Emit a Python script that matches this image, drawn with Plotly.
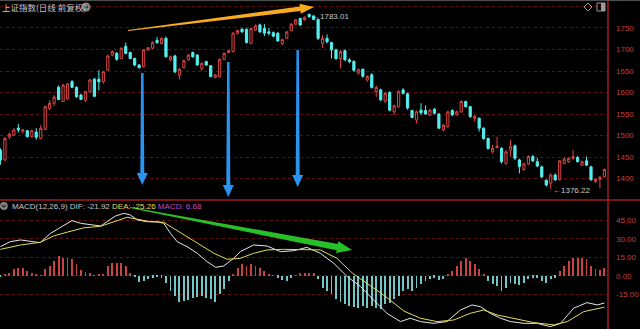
import plotly.graph_objects as go

W, H = 640, 329
PLOT_R = 608          # right edge of plotting area (px)
SPLIT = 200           # boundary between price panel and MACD panel (px)

# ---------------- data ----------------
opens = [1466, 1443, 1496, 1501, 1517, 1510, 1511, 1497, 1508, 1493,
         1514, 1563, 1575, 1612, 1579, 1585, 1625, 1612, 1594, 1582,
         1602, 1631, 1631, 1625, 1652, 1687, 1691, 1679, 1707, 1693,
         1679, 1664, 1660, 1699, 1703, 1721, 1714, 1726, 1676, 1685,
         1640, 1658, 1676, 1693, 1687, 1656, 1672, 1662, 1635, 1637,
         1677, 1693, 1695, 1738, 1747, 1747, 1714, 1745, 1757, 1749,
         1741, 1739, 1738, 1714, 1726, 1744, 1759, 1772, 1769, 1782,
         1778, 1770,
         1714, 1726, 1716, 1699, 1679, 1697, 1676, 1672, 1645, 1654,
         1629, 1641, 1602, 1606, 1580, 1600, 1555, 1567, 1606, 1597,
         1558, 1536, 1559, 1558, 1547, 1561, 1550, 1513, 1521, 1558,
         1548, 1555, 1579, 1567, 1540, 1540, 1517, 1493, 1462, 1472,
         1470, 1435, 1466, 1476, 1443, 1421, 1434, 1451, 1439, 1427,
         1396, 1389, 1408, 1397, 1435, 1439, 1447, 1449, 1431, 1441,
         1427, 1393, 1398, 1404]
highs = [1470, 1497, 1507, 1517, 1527, 1515, 1513, 1514, 1517, 1524,
         1569, 1582, 1594, 1617, 1620, 1622, 1629, 1614, 1597, 1604,
         1631, 1634, 1652, 1650, 1688, 1698, 1694, 1705, 1716, 1695,
         1681, 1666, 1701, 1706, 1719, 1729, 1728, 1730, 1686, 1688,
         1657, 1677, 1690, 1695, 1689, 1670, 1674, 1664, 1643, 1679,
         1693, 1699, 1740, 1746, 1750, 1749, 1751, 1758, 1760, 1759,
         1750, 1742, 1740, 1725, 1743, 1761, 1771, 1774, 1777, 1783.01,
         1780, 1772,
         1734, 1735, 1718, 1702, 1699, 1700, 1680, 1675, 1656, 1656,
         1640, 1645, 1616, 1609, 1601, 1603, 1572, 1605, 1610, 1600,
         1560, 1558, 1575, 1570, 1562, 1564, 1552, 1527, 1558, 1561,
         1558, 1582, 1581, 1569, 1548, 1542, 1519, 1495, 1478, 1497,
         1473, 1466, 1490, 1479, 1446, 1437, 1454, 1455, 1448, 1430,
         1398, 1412, 1412, 1443, 1450, 1450, 1466, 1452, 1442, 1451,
         1430, 1400, 1406, 1423]
lows = [1432, 1441, 1491, 1499, 1507, 1505, 1496, 1495, 1490, 1491,
        1513, 1559, 1569, 1582, 1578, 1583, 1610, 1588, 1582, 1578,
        1600, 1589, 1605, 1620, 1650, 1684, 1674, 1677, 1689, 1677,
        1661, 1655, 1658, 1697, 1701, 1713, 1712, 1681, 1672, 1645,
        1630, 1656, 1674, 1681, 1662, 1650, 1662, 1635, 1633, 1635,
        1675, 1691, 1693, 1735, 1739, 1714, 1712, 1743, 1739, 1731,
        1733, 1728, 1718, 1710, 1724, 1742, 1757, 1755, 1767, 1774,
        1768, 1722,
        1703, 1714, 1679, 1676, 1656, 1673, 1668, 1648, 1642, 1634,
        1625, 1609, 1590, 1580, 1575, 1556, 1548, 1565, 1595, 1560,
        1540, 1528, 1548, 1548, 1545, 1549, 1515, 1509, 1518, 1545,
        1546, 1553, 1565, 1541, 1532, 1509, 1490, 1467, 1458, 1470,
        1435, 1432, 1451, 1443, 1412, 1418, 1431, 1438, 1426, 1401,
        1381, 1376.22, 1394, 1395, 1433, 1436, 1443, 1437, 1429, 1429,
        1395, 1390, 1377, 1402]
closes = [1443, 1493, 1503, 1513, 1513, 1513, 1497, 1511, 1496, 1517,
          1567, 1575, 1589, 1584, 1617, 1620, 1612, 1590, 1584, 1602,
          1629, 1591, 1625, 1648, 1685, 1695, 1677, 1703, 1691, 1679,
          1664, 1658, 1699, 1704, 1716, 1716, 1726, 1683, 1683, 1648,
          1654, 1674, 1687, 1683, 1664, 1668, 1664, 1637, 1641, 1677,
          1691, 1697, 1738, 1744, 1741, 1716, 1749, 1755, 1741, 1738,
          1738, 1731, 1720, 1723, 1741, 1759, 1769, 1757, 1775, 1776,
          1770, 1726,
          1726, 1718, 1699, 1679, 1695, 1676, 1672, 1652, 1653, 1638,
          1637, 1612, 1612, 1583, 1598, 1559, 1569, 1602, 1598, 1564,
          1542, 1555, 1553, 1550, 1559, 1552, 1517, 1524, 1555, 1548,
          1555, 1579, 1567, 1544, 1544, 1517, 1493, 1470, 1470, 1475,
          1439, 1462, 1474, 1447, 1428, 1434, 1451, 1441, 1429, 1404,
          1385, 1408, 1397, 1441, 1445, 1447, 1451, 1439, 1439, 1431,
          1397, 1398, 1403, 1421]

macd_hist = [-1.0, 1.4, 2.7, 5.4, 6.8, 6.8, 4.1, 2.2, 0.8, 0.5,
             5.4, 8.1, 12.2, 16.2, 14.9, 14.9, 13.5, 9.5, 4.9, 3.2,
             2.7, 0.5, 0.8, 1.4, 8.1, 10.3, 10.8, 10.3, 8.1, 2.7,
             -0.8, -4.9, -4.1, -2.7, -1.4, -0.8, -1.4, -5.4, -12.2, -16.2,
             -21.1, -20.3, -19.5, -17.6, -16.8, -16.2, -17.6, -18.9, -21.1, -14.9,
             -10.8, -4.1, 1.4, 6.8, 9.5, 8.1, 9.5, 8.1, 6.8, 4.1,
             1.4, 0.5, -1.4, -3.2, -4.1, -1.4, 0.5, 2.2, 2.2, 2.7,
             2.2, -2.7, -10.0, -12.2, -14.9, -18.9, -21.1, -23.0, -24.3, -24.9,
             -25.7, -24.3, -25.7, -24.3, -25.7, -26.5, -23.0, -21.6, -18.9, -16.2,
             -12.2, -10.8, -12.2, -9.5, -6.8, -4.1, -2.7, -1.4, -3.2, -2.2,
             1.4, 4.1, 8.1, 12.2, 14.9, 12.2, 9.5, 5.4, 0.8, -4.1,
             -6.8, -8.1, -12.2, -9.5, -5.4, -6.8, -7.6, -5.9, -2.7, -1.4,
             -1.4, -4.1, -5.4, -2.7, -1.4, 4.1, 8.1, 12.2, 14.9, 14.9,
             14.9, 13.5, 8.1, 5.4, 4.9, 6.68]

dif_x = [0, 2.2, 4.5, 6.7, 8.9, 11.2, 14.2, 16, 17.9, 20.1, 22.4, 23.8, 25.7,
         27.6, 29, 30.6, 32.8, 35, 36.5, 38, 39.5, 41.7, 44, 46.2, 48.1, 49.9,
         52.1, 53.6, 56.6, 59.6, 62.6, 65.6, 68.5, 71.5, 74.5, 77.5, 80.5,
         83.4, 86.4, 89.4, 91.6, 93.9, 96.8, 99.8, 102.8, 105.4, 107.3, 109.5,
         111.8, 114, 117, 120, 122.9, 125.2, 128.1, 131.1, 133.4, 135]
dif_y = [23.8, 27.8, 29.2, 27.8, 27.0, 34.6, 41.4, 44.9, 42.7, 41.4, 40.5, 44.0, 48.6,
         50.8, 49.5, 45.4, 44.0, 44.0, 42.7, 34.6, 27.8, 23.8, 18.4, 11.6, 7.0, 8.1,
         14.3, 19.7, 25.1, 24.3, 19.7, 20.5, 23.2, 18.4, 10.3, -0.5, -8.6,
         -19.5, -30.3, -37.0, -34.3, -37.0, -38.4, -37.0, -27.6, -23.5, -24.9, -30.3,
         -34.3, -37.0, -38.4, -38.4, -41.1, -38.4, -26.2, -21.6, -23.5, -21.92]
dea_x = [0, 4.5, 8.9, 11.9, 14.9, 18.6, 22.4, 25.3, 28.3, 30.6, 33.5, 36.5, 38.7,
         41.7, 44.7, 47.7, 50.7, 53.6, 56.6, 59.6, 63.3, 67, 71.5, 75.2, 78.7,
         82.7, 86.4, 90.2, 93.9, 97.6, 101.3, 105.0, 108, 111, 114.7, 119.2,
         123.7, 126.7, 130.4, 135]
dea_y = [21.6, 25.1, 27.3, 32.5, 35.5, 39.0, 40.3, 44.0, 47.6, 46.0, 44.0, 43.5, 38.7,
         31.9, 25.1, 18.4, 13.5, 14.3, 18.4, 21.1, 21.6, 21.6, 21.1, 14.3, 2.2,
         -8.0, -17.5, -28.5, -34.3, -37.0, -35.7, -30.3, -27.6, -31.6, -34.3, -37.8,
         -39.7, -37.0, -28.9, -25.26]

price_ticks = [1400, 1450, 1500, 1550, 1600, 1650, 1700, 1750, 1800]
price_labels = ["1400", "1450", "1500", "1550", "1600", "1650", "1700", "1750", ""]
macd_ticks = [-15, 0, 15, 30, 45]

title_text = "上证指数(日线 前复权)"
high_label = 1783.01
low_label = 1376.22

# ---------------- styling ----------------
UP = "#dc4646"
DN = "#55eeee"
HIST_UP = "#c84444"
HIST_DN = "#74c6c6"
GRID = "#5a1212"
SEP = "#a01c1c"
LABEL = "#c93c3c"
TXT = "#c8c8c8"
FONT = "Liberation Sans, Arial, sans-serif"

idx = list(range(len(opens)))
n = len(opens)
xr = [-0.1, n - 0.2]

fig = go.Figure()
fig.add_trace(go.Candlestick(
    x=idx, open=opens, high=highs, low=lows, close=closes,
    increasing=dict(line=dict(color=UP, width=1), fillcolor="#000000"),
    decreasing=dict(line=dict(color=DN, width=1), fillcolor=DN),
    xaxis="x", yaxis="y", hoverinfo="skip", showlegend=False))
fig.add_trace(go.Bar(
    x=idx, y=macd_hist, width=0.2,
    marker=dict(color=[HIST_UP if v >= 0 else HIST_DN for v in macd_hist], line=dict(width=0)),
    xaxis="x2", yaxis="y2", hoverinfo="skip", showlegend=False))
fig.add_trace(go.Scatter(x=dif_x, y=dif_y, mode="lines",
                         line=dict(color="#e6e6e6", width=1),
                         xaxis="x2", yaxis="y2", hoverinfo="skip", showlegend=False))
fig.add_trace(go.Scatter(x=dea_x, y=dea_y, mode="lines",
                         line=dict(color="#e2dc5a", width=1),
                         xaxis="x2", yaxis="y2", hoverinfo="skip", showlegend=False))

ysplit = 1 - SPLIT / H
xdom = [0, PLOT_R / W]

axis_common = dict(side="right", showline=False, zeroline=False, ticks="",
                   showgrid=True, gridcolor=GRID, griddash="dot", gridwidth=1,
                   tickfont=dict(family=FONT, size=8, color=LABEL),
                   ticklabelstandoff=7, fixedrange=True)

fig.update_layout(
    width=W, height=H,
    margin=dict(l=0, r=0, t=0, b=0),
    paper_bgcolor="#000000", plot_bgcolor="#000000",
    showlegend=False, bargap=0,
    xaxis=dict(domain=xdom, range=xr, visible=False, anchor="y",
               rangeslider=dict(visible=False), fixedrange=True),
    xaxis2=dict(domain=xdom, range=xr, visible=False, anchor="y2", fixedrange=True),
    yaxis=dict(domain=[ysplit, 1], range=[1350, 1815.1], anchor="x",
               tickvals=price_ticks, ticktext=price_labels, **axis_common),
    yaxis2=dict(domain=[0, ysplit], range=[-43.0, 61.6], anchor="x2",
                tickvals=macd_ticks, ticktext=[f"{v:.2f}" for v in macd_ticks],
                **axis_common),
)


def P(px, py):
    return px / W, 1 - py / H


def arrow_path(x0, y0, x1, y1, w0, w1, hl, hw):
    dx, dy = x1 - x0, y1 - y0
    L = (dx * dx + dy * dy) ** 0.5
    ux, uy = dx / L, dy / L
    nx, ny = -uy, ux
    bx, by = x1 - ux * hl, y1 - uy * hl
    pts = [(x0 + nx * w0 / 2, y0 + ny * w0 / 2),
           (bx + nx * w1 / 2, by + ny * w1 / 2),
           (bx + nx * hw / 2, by + ny * hw / 2),
           (x1, y1),
           (bx - nx * hw / 2, by - ny * hw / 2),
           (bx - nx * w1 / 2, by - ny * w1 / 2),
           (x0 - nx * w0 / 2, y0 - ny * w0 / 2)]
    s = ""
    for i, (px, py) in enumerate(pts):
        X, Y = P(px, py)
        s += ("M" if i == 0 else "L") + f"{X:.5f},{Y:.5f} "
    return s + "Z"


shapes = []
# separators
shapes.append(dict(type="line", xref="paper", yref="paper",
                   x0=0, x1=1, y0=1 - SPLIT / H, y1=1 - SPLIT / H,
                   line=dict(color=SEP, width=1.5)))
shapes.append(dict(type="line", xref="paper", yref="paper",
                   x0=PLOT_R / W, x1=PLOT_R / W, y0=0, y1=1,
                   line=dict(color=SEP, width=1.5)))
shapes.append(dict(type="line", xref="paper", yref="paper",
                   x0=0, x1=1, y0=1 - 0.6 / H, y1=1 - 0.6 / H,
                   line=dict(color="#555555", width=1)))

# annotation arrows
for (x0, y0, x1, y1, w0, w1, hl, hw, col) in [
    (142.3, 73, 142.3, 185, 2.5, 4, 12, 11, "#2a93f0"),
    (228.3, 62, 228.3, 197, 2.5, 4, 12, 11, "#2a93f0"),
    (297.7, 50, 297.7, 187, 2.5, 4, 12, 11, "#2a93f0"),
    (128, 30.5, 314, 7, 1.2, 4.5, 14, 10, "#f6ac1e"),
    (130, 207.5, 352, 250, 1, 6.5, 15, 12, "#28c028"),
]:
    shapes.append(dict(type="path", xref="paper", yref="paper",
                       path=arrow_path(x0, y0, x1, y1, w0, w1, hl, hw),
                       fillcolor=col, line=dict(width=0)))

# small icons
def circ(cx, cy, r, col):
    X0, Y0 = P(cx - r, cy + r)
    X1, Y1 = P(cx + r, cy - r)
    return dict(type="circle", xref="paper", yref="paper", x0=X0, y0=Y0, x1=X1, y1=Y1,
                fillcolor=col, line=dict(width=0))

shapes.append(circ(86, 7, 4.5, "#858585"))
shapes.append(circ(3.8, 206, 4, "#858585"))
for cx, cy in [(86, 7), (3.8, 206)]:
    a = P(cx - 2, cy - 1)
    b = P(cx, cy + 1.2)
    c = P(cx + 2, cy - 1)
    shapes.append(dict(type="path", xref="paper", yref="paper",
                       path=f"M{a[0]},{a[1]} L{b[0]},{b[1]} L{c[0]},{c[1]}",
                       line=dict(color="#2a2a2a", width=1.2)))
# diamond & panel icon (top right)
d = [P(588, 3), P(592, 7), P(588, 11), P(584, 7)]
shapes.append(dict(type="path", xref="paper", yref="paper",
                   path="M" + " L".join(f"{p[0]},{p[1]}" for p in d) + " Z",
                   line=dict(color="#9a9a9a", width=1)))
r0, r1 = P(597, 11), P(605, 3)
shapes.append(dict(type="rect", xref="paper", yref="paper", x0=r0[0], y0=r0[1],
                   x1=r1[0], y1=r1[1], line=dict(color="#9a9a9a", width=1)))
r2, r3 = P(601, 11), P(605, 3)
shapes.append(dict(type="rect", xref="paper", yref="paper", x0=r2[0], y0=r2[1],
                   x1=r3[0], y1=r3[1], fillcolor="#9a9a9a", line=dict(width=0)))

fig.update_layout(shapes=shapes)

ann = []
tx, ty = P(0, 7.5)
ann.append(dict(xref="paper", yref="paper", x=tx, y=ty, xanchor="left", yanchor="middle",
                text=title_text, showarrow=False,
                font=dict(family="Noto Sans CJK SC", size=8.5, color=TXT)))
mx, my = P(9.5, 206)
dif_last, dea_last, macd_last = dif_y[-1], dea_y[-1], macd_hist[-1]
ann.append(dict(xref="paper", yref="paper", x=mx, y=my, xanchor="left", yanchor="middle",
                showarrow=False, font=dict(family=FONT, size=8, color=TXT),
                text=(f"MACD(12,26,9) DIF: {dif_last:.2f} "
                      f"<span style='color:#e2dc5a'>DEA: {dea_last:.2f}</span> "
                      f"<span style='color:#c846c8'>MACD: {macd_last:.2f}</span>")))
hi_i = highs.index(max(highs))
lo_i = lows.index(min(lows))
ann.append(dict(xref="x", yref="y", x=hi_i, y=high_label, xanchor="left", yanchor="middle",
                xshift=1, yshift=-3, showarrow=False, text=f"←{high_label:.2f}",
                font=dict(family=FONT, size=8, color=TXT)))
ann.append(dict(xref="x", yref="y", x=lo_i, y=low_label, xanchor="left", yanchor="middle",
                xshift=0, yshift=-1.5, showarrow=False, text=f"←{low_label:.2f}",
                font=dict(family=FONT, size=8, color=TXT)))
fig.update_layout(annotations=ann)

fig.write_html("out.html")
